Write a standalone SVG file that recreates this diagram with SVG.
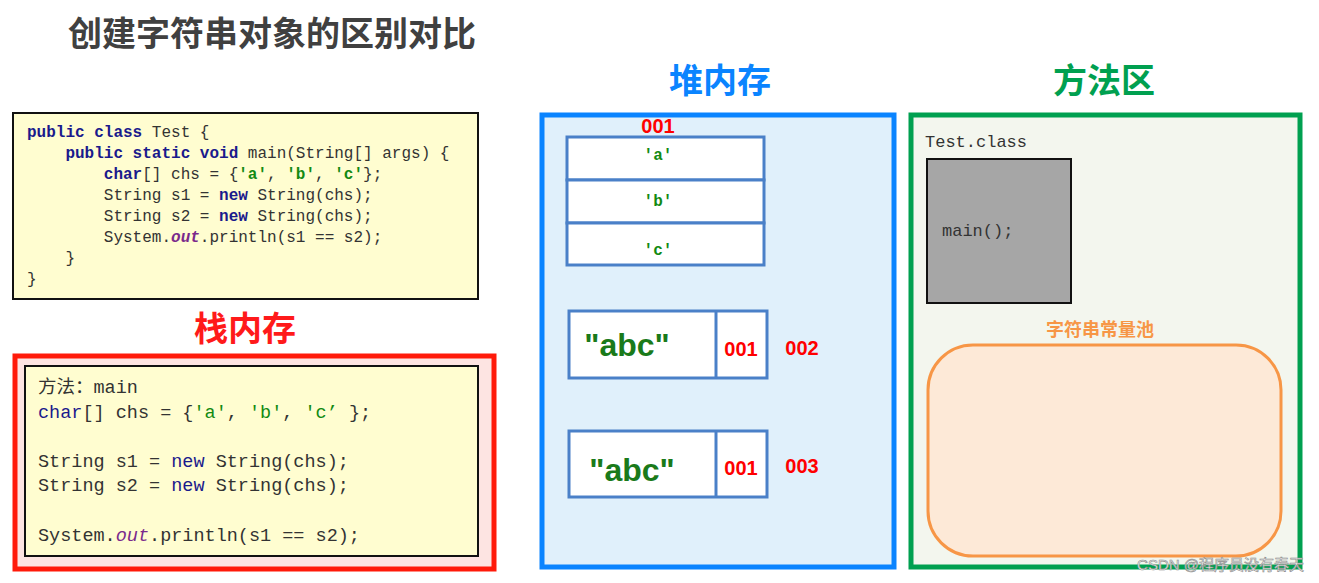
<svg xmlns="http://www.w3.org/2000/svg" width="1319" height="583" viewBox="0 0 1319 583">
<style>
.code{font-family:"Liberation Mono","DejaVu Sans Mono",monospace;fill:#333}
.kw{fill:#1a1a8c;font-weight:bold}
.st{fill:#128a12;font-weight:bold}
.it{fill:#7a2a8c;font-style:italic;font-weight:bold}
.h{font-family:"Noto Sans CJK SC",sans-serif;font-weight:bold;font-size:34px}
.red{font-family:"Liberation Sans",sans-serif;font-weight:bold;fill:#ff0000;font-size:20px}
.cell{fill:#fff;stroke:#4a80c8;stroke-width:3}
.abc{font-family:"Liberation Sans",sans-serif;font-weight:bold;fill:#1a7a1a;font-size:32px}
</style>
<rect width="1319" height="583" fill="#fff"/>
<text x="68" y="46" class="h" fill="#404040">创建字符串对象的区别对比</text>

<g id="code">
<rect x="13" y="113" width="465" height="186" fill="#fffdd0" stroke="#111" stroke-width="2"/>
<text class="code" font-size="16" x="27" y="137"><tspan class="kw">public class</tspan> Test {</text>
<text class="code" font-size="16" x="27" y="158" xml:space="preserve">    <tspan class="kw">public static void</tspan> main(String[] args) {</text>
<text class="code" font-size="16" x="27" y="179" xml:space="preserve">        <tspan class="kw">char</tspan>[] chs = {<tspan class="st">'a'</tspan>, <tspan class="st">'b'</tspan>, <tspan class="st">'c'</tspan>};</text>
<text class="code" font-size="16" x="27" y="200" xml:space="preserve">        String s1 = <tspan class="kw">new</tspan> String(chs);</text>
<text class="code" font-size="16" x="27" y="221" xml:space="preserve">        String s2 = <tspan class="kw">new</tspan> String(chs);</text>
<text class="code" font-size="16" x="27" y="242" xml:space="preserve">        System.<tspan class="it">out</tspan>.println(s1 == s2);</text>
<text class="code" font-size="16" x="27" y="263" xml:space="preserve">    }</text>
<text class="code" font-size="16" x="27" y="284">}</text>
</g>

<g id="stack">
<text x="245" y="341" class="h" fill="#ff1a1a" text-anchor="middle">栈内存</text>
<rect x="15" y="356" width="479" height="213" fill="#fde4e2" stroke="#ff1a0a" stroke-width="5"/>
<rect x="25" y="366" width="453" height="190" fill="#fffdd0" stroke="#111" stroke-width="2"/>
<text class="code" font-size="18.5" x="38" y="393"><tspan font-family="Noto Sans CJK SC">方法：</tspan>main</text>
<text class="code" font-size="18.5" x="38" y="418"><tspan fill="#1a1a8c">char</tspan>[] chs = {<tspan fill="#128a12">'a'</tspan>, <tspan fill="#128a12">'b'</tspan>, <tspan fill="#128a12">'c’</tspan> };</text>
<text class="code" font-size="18.5" x="38" y="467">String s1 = <tspan fill="#1a1a8c">new</tspan> String(chs);</text>
<text class="code" font-size="18.5" x="38" y="491">String s2 = <tspan fill="#1a1a8c">new</tspan> String(chs);</text>
<text class="code" font-size="18.5" x="38" y="541">System.<tspan fill="#7a2a8c" font-style="italic">out</tspan>.println(s1 == s2);</text>
</g>

<g id="heap">
<text x="720" y="93" class="h" fill="#0a84ff" text-anchor="middle">堆内存</text>
<rect x="542" y="115" width="352" height="452" fill="#e0f0fb" stroke="#0a84ff" stroke-width="5"/>
</g>
<g id="array">
<text x="658" y="133" class="red" text-anchor="middle">001</text>
<rect x="567" y="137" width="197" height="43" class="cell"/>
<rect x="567" y="180" width="197" height="43" class="cell"/>
<rect x="567" y="223" width="197" height="42" class="cell"/>
<text x="658" y="160" class="code st" font-size="16" text-anchor="middle">'a'</text>
<text x="658" y="206" class="code st" font-size="16" text-anchor="middle">'b'</text>
<text x="658" y="255" class="code st" font-size="16" text-anchor="middle">'c'</text>
</g>
<g id="s1">
<rect x="569" y="311" width="198" height="67" class="cell"/>
<line x1="716" y1="311" x2="716" y2="378" stroke="#4a80c8" stroke-width="3"/>
<text x="627" y="356" class="abc" text-anchor="middle">"abc"</text>
<text x="741" y="356" class="red" text-anchor="middle">001</text>
<text x="802" y="355" class="red" text-anchor="middle">002</text>
</g>
<g id="s2">
<rect x="569" y="431" width="198" height="66" class="cell"/>
<line x1="716" y1="431" x2="716" y2="497" stroke="#4a80c8" stroke-width="3"/>
<text x="632" y="481" class="abc" text-anchor="middle">"abc"</text>
<text x="741" y="475" class="red" text-anchor="middle">001</text>
<text x="802" y="473" class="red" text-anchor="middle">003</text>
</g>

<g id="method">
<text x="1104" y="93" class="h" fill="#00a050" text-anchor="middle">方法区</text>
<rect x="911" y="115" width="389" height="452" fill="#f3f6ee" stroke="#00a050" stroke-width="5"/>
<text x="925" y="147" class="code" font-size="17">Test.class</text>
</g>
<g id="main">
<rect x="927" y="159" width="144" height="144" fill="#a6a6a6" stroke="#111" stroke-width="2"/>
<text x="942" y="236" class="code" font-size="17" fill="#111">main();</text>
</g>
<g id="pool">
<text x="1100" y="336" font-family="Noto Sans CJK SC,sans-serif" font-weight="bold" font-size="18" fill="#f79646" text-anchor="middle">字符串常量池</text>
<rect x="928" y="345" width="353" height="211" rx="45" fill="#fde9d7" stroke="#f79646" stroke-width="3"/>
</g>
<text x="1304" y="570" font-family="Liberation Sans,Noto Sans CJK SC,sans-serif" font-size="15" fill="#fff" stroke="#888" stroke-width="0.6" text-anchor="end">CSDN @程序员没有春天</text>
</svg>
